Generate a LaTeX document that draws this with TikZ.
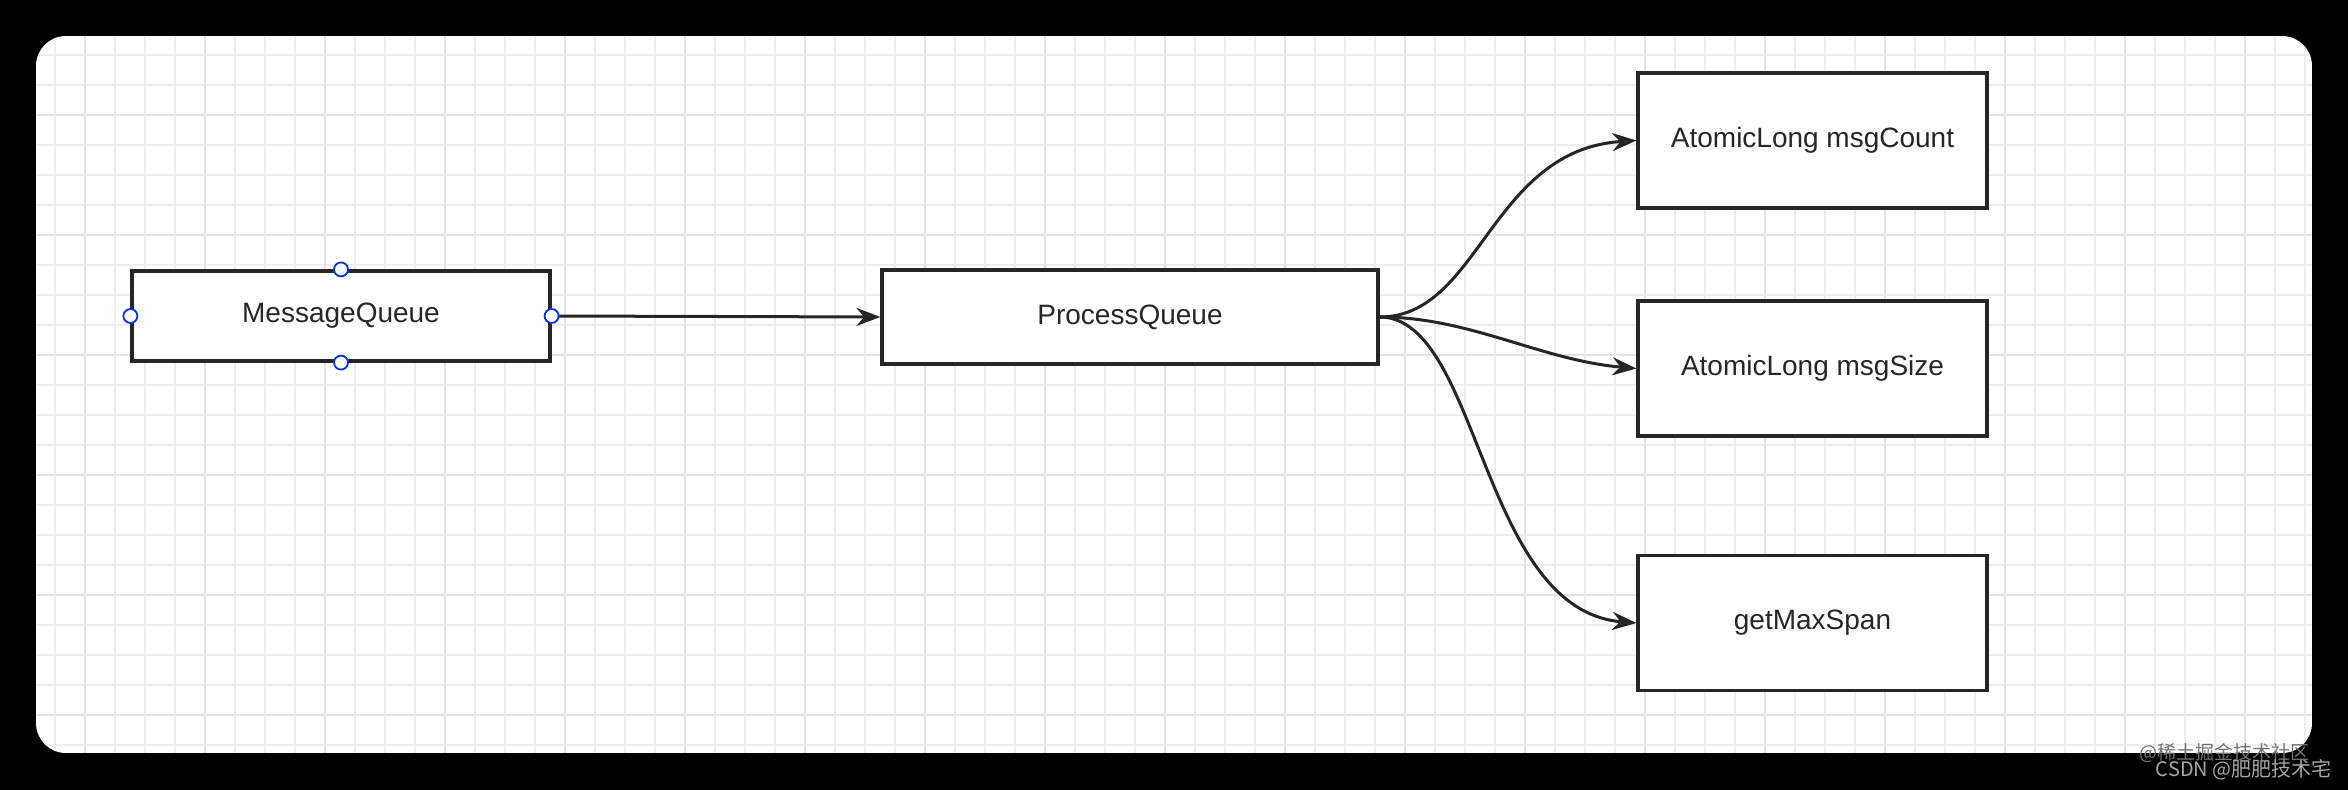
\documentclass[tikz,border=0pt]{standalone}
\usepackage{fontspec}
\setmainfont{Liberation Sans}
\newfontfamily\cjk{Noto Sans CJK SC}
\usetikzlibrary{arrows.meta}
\begin{document}
\begin{tikzpicture}[x=0.5pt,y=-0.5pt,
  box/.style={draw=black!85,line width=1.6pt,fill=white,inner sep=0,font=\fontsize{14}{16}\selectfont,text=black!85},
  conn/.style={draw=black!85,line width=1.5pt,-{Stealth[length=12pt,width=9pt]}},
  handle/.style={circle,draw=blue!80!cyan,fill=white,line width=0.9pt,minimum size=7pt,inner sep=0}]
\fill[black] (0,0) rectangle (2348,790);
\useasboundingbox (0,0) rectangle (2348,790);
\begin{scope}
\clip[rounded corners=15pt] (36,36) rectangle (2312,753);
\fill[white] (36,36) rectangle (2312,753);
\foreach \x in {55,85,...,2312} \draw[black!7,line width=0.6pt] (\x,36) -- (\x,753);
\foreach \y in {55,85,...,753} \draw[black!7,line width=0.6pt] (36,\y) -- (2312,\y);
\foreach \x in {85,205,...,2312} \draw[black!11,line width=1pt] (\x,36) -- (\x,753);
\foreach \y in {115,235,...,753} \draw[black!11,line width=1pt] (36,\y) -- (2312,\y);
\end{scope}
\node[box,minimum width=209pt,minimum height=45pt] (mq) at (341,316) {MessageQueue};
\node[box,minimum width=248pt,minimum height=47pt] (pq) at (1130,317) {ProcessQueue};
\node[box,minimum width=174.5pt,minimum height=67.5pt] (mc) at (1812.5,140.5) {AtomicLong msgCount};
\node[box,minimum width=174.5pt,minimum height=67.5pt] (ms) at (1812.5,368.5) {AtomicLong msgSize};
\node[box,minimum width=174.5pt,minimum height=67.5pt] (gm) at (1812.5,623) {getMaxSpan};
\draw[conn] (mq.east) -- (pq.west);
\draw[conn] (pq.east) .. controls (1480,317) and (1490,150) .. (mc.west);
\draw[conn] (pq.east) .. controls (1470,317) and (1540,360) .. (ms.west);
\draw[conn] (pq.east) .. controls (1480,317) and (1480,610) .. (gm.west);
\node[handle] (h1) at (mq.north) {};
\node[handle] (h2) at (mq.south) {};
\node[handle] (h3) at (mq.west) {};
\node[handle] (h4) at (mq.east) {};
\node[anchor=east,text=white!45!black,font=\cjk\fontsize{9.5}{10}\selectfont,inner sep=0] (w1) at (2310,753) {@稀土掘金技术社区};
\node[anchor=east,text=white!65!black,font=\cjk\fontsize{10}{11}\selectfont,inner sep=0] (w2) at (2332,770) {CSDN @肥肥技术宅};
\end{tikzpicture}
\end{document}
